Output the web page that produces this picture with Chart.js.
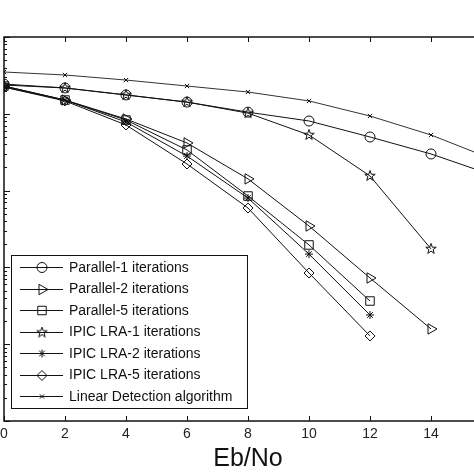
<!DOCTYPE html>
<html>
<head>
<meta charset="utf-8">
<script src="https://cdn.jsdelivr.net/npm/chart.js@4/dist/chart.umd.min.js"></script>
<style>
  html, body { margin: 0; padding: 0; background: #fff; overflow: hidden; }
  #wrap { width: 502px; height: 474px; margin-left: -3px; }
</style>
</head>
<body>
<div id="wrap"><canvas id="ber" width="502" height="474"></canvas></div>
<script>
// Eb/No points (dB)
const ebno = [0, 2, 4, 6, 8, 10, 12, 14, 16];
const xTicks = [0, 2, 4, 6, 8, 10, 12, 14, 16];

// BER
const parallel1 = [0.244, 0.217, 0.176, 0.142, 0.105, 0.0806, 0.0499, 0.030, 0.016];
const parallel2 = [0.230, 0.151, 0.0856, 0.0417, 0.0142, 0.00346, 0.000728, 0.000158];
const parallel5 = [0.230, 0.151, 0.083, 0.0338, 0.0085, 0.00196, 0.000365];
const ipic1 = [0.237, 0.217, 0.176, 0.142, 0.102, 0.053, 0.0155, 0.00174];
const ipic2 = [0.223, 0.151, 0.0782, 0.0282, 0.0080, 0.00149, 0.000240];
const ipic5 = [0.223, 0.147, 0.0715, 0.0222, 0.00593, 0.000845, 0.000128];
const linearDet = [0.350, 0.320, 0.275, 0.230, 0.192, 0.147, 0.0936, 0.0530, 0.0258];

const seriesNames = [
    'Parallel-1 iterations',
    'Parallel-2 iterations',
    'Parallel-5 iterations',
    'IPIC LRA-1 iterations',
    'IPIC LRA-2 iterations',
    'IPIC LRA-5 iterations',
    'Linear Detection algorithm'
];

function pentagram(size) {
    const c = document.createElement('canvas');
    c.width = c.height = size;
    const g = c.getContext('2d');
    const cx = size / 2, cy = size / 2, ro = size / 2 - 0.5, ri = ro * 0.4;
    g.beginPath();
    for (let i = 0; i < 10; i++) {
        const r = i % 2 ? ri : ro;
        const a = -Math.PI / 2 + i * Math.PI / 5;
        const px = cx + r * Math.cos(a), py = cy + r * Math.sin(a);
        if (i === 0) g.moveTo(px, py); else g.lineTo(px, py);
    }
    g.closePath();
    g.strokeStyle = '#111';
    g.lineWidth = 1;
    g.stroke();
    return c;
}
const starImg = pentagram(12);

function series(label, data, style, extra) {
    return Object.assign({
        label,
        data: data.map((v, i) => ({ x: ebno[i], y: v })),
        borderColor: '#111',
        backgroundColor: 'rgba(0,0,0,0)',
        borderWidth: 1,
        pointStyle: style,
        pointRadius: 5,
        pointBorderWidth: 1,
        pointBorderColor: '#111',
        pointBackgroundColor: 'rgba(0,0,0,0)',
        tension: 0
    }, extra || {});
}

const datasets = [
    series(seriesNames[0], parallel1, 'circle', { pointRadius: 5 }),
    series(seriesNames[1], parallel2, 'triangle', { pointRotation: 90, pointRadius: 6 }),
    series(seriesNames[2], parallel5, 'rect', { pointRadius: 6 }),
    series(seriesNames[3], ipic1, starImg),
    series(seriesNames[4], ipic2, 'star', { pointRadius: 4 }),
    series(seriesNames[5], ipic5, 'rectRot', { pointRadius: 5 }),
    series(seriesNames[6], linearDet, 'crossRot', { pointRadius: 3, borderColor: '#333' })
];

// box with inward ticks, MATLAB style
const framePlugin = {
    id: 'frame',
    afterDatasetsDraw(chart) {
        const { ctx, chartArea: a, scales: { x, y } } = chart;
        ctx.save();
        ctx.strokeStyle = '#111';
        ctx.lineWidth = 1.5;
        ctx.strokeRect(a.left, a.top, a.right - a.left, a.bottom - a.top);
        ctx.lineWidth = 1;
        ctx.beginPath();
        xTicks.forEach(t => {
            const px = Math.round(x.getPixelForValue(t)) + 0.5;
            ctx.moveTo(px, a.bottom); ctx.lineTo(px, a.bottom - 5);
            ctx.moveTo(px, a.top); ctx.lineTo(px, a.top + 5);
        });
        for (let e = -5; e <= 0; e++) {
            for (let m = 1; m <= 9; m++) {
                const v = m * Math.pow(10, e);
                if (v > 1) break;
                const py = Math.round(y.getPixelForValue(v)) + 0.5;
                const len = m === 1 ? 6 : 3;
                ctx.moveTo(a.left, py); ctx.lineTo(a.left + len, py);
                ctx.moveTo(a.right, py); ctx.lineTo(a.right - len, py);
            }
        }
        ctx.stroke();
        ctx.restore();
    }
};

// legend box inside the axes (page coords shifted by the -3px wrapper offset)
const legendPlugin = {
    id: 'boxLegend',
    afterDraw(chart) {
        const { ctx } = chart;
        const dx = 3;
        const bx = 11.5 + dx, by = 255.5, bw = 236, bh = 153;
        ctx.save();
        ctx.fillStyle = '#fff';
        ctx.fillRect(bx, by, bw, bh);
        ctx.strokeStyle = '#111';
        ctx.lineWidth = 1;
        ctx.strokeRect(bx, by, bw, bh);
        ctx.font = '14px "Liberation Sans", Arial, sans-serif';
        ctx.textBaseline = 'middle';
        chart.data.datasets.forEach((ds, i) => {
            const ry = 267 + i * 21.5;
            ctx.strokeStyle = '#111';
            ctx.beginPath();
            ctx.moveTo(20 + dx, Math.round(ry) + 0.5);
            ctx.lineTo(63 + dx, Math.round(ry) + 0.5);
            ctx.stroke();
            if (Chart.helpers && Chart.helpers.drawPoint) {
                ctx.fillStyle = 'rgba(0,0,0,0)';
                Chart.helpers.drawPoint(ctx, {
                    pointStyle: ds.pointStyle,
                    rotation: ds.pointRotation || 0,
                    radius: ds.pointRadius,
                    borderWidth: 1
                }, 42 + dx, Math.round(ry) + 0.5);
            }
            ctx.fillStyle = '#111';
            ctx.fillText(ds.label, 69 + dx, ry + 1);
        });
        ctx.restore();
    }
};

new Chart(document.getElementById('ber'), {
    type: 'line',
    data: { datasets },
    options: {
        responsive: false,
        animation: false,
        layout: { padding: { top: 37, right: 3, left: 0, bottom: 0 } },
        plugins: {
            legend: { display: false },
            tooltip: { enabled: false }
        },
        scales: {
            x: {
                type: 'linear',
                min: 0,
                max: 16,
                grid: { display: false, drawTicks: false },
                border: { display: false },
                afterBuildTicks: s => { s.ticks = xTicks.map(v => ({ value: v })); },
                afterFit: s => {
                    s.height = 53;
                    s.paddingLeft = 0;
                    s.paddingRight = 0;
                },
                ticks: {
                    color: '#222',
                    padding: 5,
                    maxRotation: 0,
                    font: { size: 14, family: '"Liberation Sans", Arial, sans-serif' }
                },
                title: {
                    display: true,
                    text: 'Eb/No',
                    color: '#111',
                    padding: { top: 0, bottom: 0 },
                    font: { size: 25, family: '"Liberation Sans", Arial, sans-serif' }
                }
            },
            y: {
                type: 'logarithmic',
                min: 1e-5,
                max: 1,
                grid: { display: false, drawTicks: false },
                border: { display: false },
                ticks: { display: false },
                afterFit: s => { s.width = 0; }
            }
        }
    },
    plugins: [framePlugin, legendPlugin]
});
</script>
</body>
</html>
